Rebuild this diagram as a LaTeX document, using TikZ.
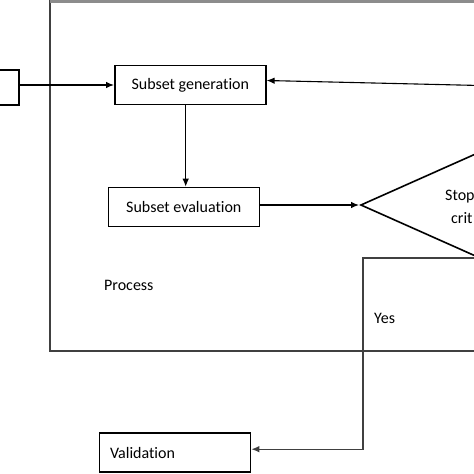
\documentclass[tikz,border=0pt]{standalone}
\usepackage{fontspec}
\setmainfont{Carlito}[Ligatures=NoCommon]
\usetikzlibrary{shapes.geometric, arrows.meta}

\begin{document}
\begin{tikzpicture}[
        x=1pt, y=-1pt, % coordinates in pixels, y downward
        font=\fontsize{16}{19}\selectfont,
        block/.style = {draw, line width=1.6pt, minimum width=151pt, minimum height=39pt, inner sep=0pt},
        stopbox/.style = {draw, line width=1.6pt, isosceles triangle, isosceles triangle apex angle=48,
                shape border rotate=180, minimum size=300pt, inner sep=0pt},
        arrow/.style = {draw, line width=1.1pt, -{Latex[length=8pt, width=6.5pt]}},
        wire/.style = {draw=black!75, line width=1.2pt},
        caption/.style = {inner sep=0pt, anchor=west},
    ]
    \useasboundingbox (0,0) rectangle (474,474);

    % frame of the process
    \draw[wire] (50,1) rectangle (520,351);
    \draw[black!45, line width=3pt] (50,1) -- (520,1);

    % blocks
    \node[block, minimum width=60pt, minimum height=35pt] (data) at (-11,87.5) {};
    \node[block] (gen) at (190.3,85) {Subset generation};
    \node[block] (eval) at (183.8,207) {Subset evaluation};
    \node[stopbox, anchor=apex] (stop) at (359,205) {};
    \node[block, text width=130pt, align=left] (valid) at (175,452.7) {Validation};
    \draw[black!35, line width=2pt] ([yshift=-1.8pt]valid.south west) -- ([yshift=-1.8pt]valid.south east);

    % texts
    \node[caption] (stoptext) at (445,197) {Stop};
    \node[caption] (crittext) at (451,218) {crit};
    \node[caption] (process) at (104,285) {Process};
    \node[caption] (yes) at (374,318) {Yes};

    % free ends at the right border
    \coordinate (loopin) at (480,85.5);
    \coordinate (yesout) at (480,258);

    % connectors
    \draw[arrow] (data.east |- gen.west) -- (gen.west);
    \draw[arrow] ([xshift=-4.6pt]gen.south) -- ([xshift=-4.6pt]gen.south |- eval.north);
    \draw[arrow] (eval.east |- stop.apex) -- (stop.apex);
    \draw[arrow] (loopin) -- ([yshift=4.5pt]gen.east);
    \draw[wire, -{Latex[length=8pt, width=6.5pt]}] (yesout) -- (363,258) |- ([yshift=3.5pt]valid.east);
\end{tikzpicture}
\end{document}
